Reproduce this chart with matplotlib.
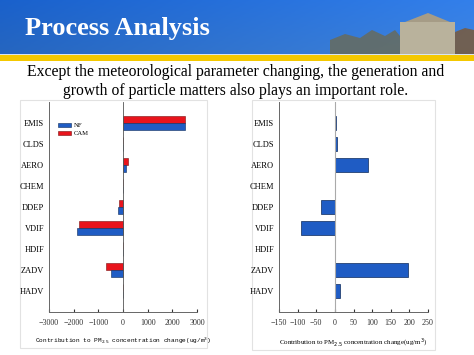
import numpy as np
import matplotlib.pyplot as plt
from matplotlib.patches import Rectangle, Polygon

# process categories, top to bottom
processes = ['EMIS', 'CLDS', 'AERO', 'CHEM', 'DDEP', 'VDIF', 'HDIF', 'ZADV', 'HADV']

# left panel: NF vs CAM (ug/m3)
nf_vals = [2500, 5, 140, 0, -220, -1880, 0, -490, 20]
cam_vals = [2500, 5, 210, 0, -180, -1800, 0, -680, 0]

# right panel: difference
diff_vals = [3, 5, 90, 0, -38, -90, 0, 195, 15]

left_xticks = [-3000, -2000, -1000, 0, 1000, 2000, 3000]
right_xticks = [-150, -100, -50, 0, 50, 100, 150, 200, 250]

W, H = 474, 355
fig = plt.figure(figsize=(W / 100, H / 100), dpi=100)
fig.patch.set_facecolor('white')

# slide background in pixel coords
bg = fig.add_axes([0, 0, 1, 1])
bg.set_xlim(0, W)
bg.set_ylim(H, 0)
bg.axis('off')

# blue banner with gradient
grad = np.linspace(0, 1, 200)[None, :]
yy = np.linspace(0, 1, 60)[:, None]
r = 0.10 + 0.10 * grad + 0.05 * yy
g = 0.38 + 0.12 * grad + 0.02 * yy
b = 0.80 + 0.12 * grad - 0.05 * yy
img = np.dstack([r, g, np.clip(b, 0, 1)])
bg.imshow(img, extent=(0, W, 55, 0), aspect='auto', zorder=0)
# building / trees silhouette on the right
bg.add_patch(Polygon([(330, 55), (330, 40), (345, 34), (360, 38), (372, 30), (385, 36),
                      (395, 30), (400, 36), (400, 55)], closed=True,
                     color='#6a6a55', alpha=0.8, zorder=1, lw=0))
bg.add_patch(Rectangle((400, 22), 55, 33, color='#b9b29c', zorder=1, lw=0))
bg.add_patch(Polygon([(405, 22), (428, 13), (450, 22)], closed=True,
                     color='#a69c86', zorder=1, lw=0))
bg.add_patch(Polygon([(455, 55), (455, 32), (465, 28), (474, 30), (474, 55)], closed=True,
                     color='#7a5a3a', alpha=0.85, zorder=1, lw=0))
bg.add_patch(Rectangle((0, 54), W, 1.2, color='#d8e4f0', zorder=2, lw=0))
bg.add_patch(Rectangle((0, 55), W, 5.5, color='#f4c800', zorder=2, lw=0))

bg.text(25, 28, 'Process Analysis', color='white', fontsize=19, fontweight='bold',
        family='Liberation Serif', va='center', ha='left', zorder=3)
bg.text(236, 72, 'Except the meteorological parameter changing, the generation and',
        fontsize=11.3, family='Liberation Serif', ha='center', va='center')
bg.text(236, 91, 'growth of particle matters also plays an important role.',
        fontsize=11.3, family='Liberation Serif', ha='center', va='center')

# white panels with faint borders
bg.add_patch(Rectangle((20, 100), 187, 248, fill=False, ec='#e2e2e2', lw=0.8))
bg.add_patch(Rectangle((252, 100), 183, 250, fill=False, ec='#e2e2e2', lw=0.8))

blue = '#1f5cc4'
red = '#e8141c'
y = np.arange(len(processes))
serif = 'Liberation Serif'

# left chart
ax1 = fig.add_axes([49 / W, 1 - 312 / H, 148 / W, 210 / H])
ax1.barh(y - 0.17, cam_vals, height=0.34, color=red, edgecolor='#7a1010', lw=0.4, label='CAM')
ax1.barh(y + 0.17, nf_vals, height=0.34, color=blue, edgecolor='#0d2a5a', lw=0.4, label='NF')
ax1.axvline(0, color='#555555', lw=0.6)
ax1.set_xlim(-3000, 3000)
ax1.set_xticks(left_xticks)
ax1.set_xlabel('Contribution to PM$_{2.5}$ concentration change(ug/m$^3$)',
               fontsize=4.4, family='Liberation Mono', labelpad=6)
h, l = ax1.get_legend_handles_labels()
ax1.legend(h[::-1], l[::-1], loc='upper left', bbox_to_anchor=(0.02, 0.93), frameon=False,
           prop={'family': serif, 'size': 4.8}, handlelength=2.0, handleheight=0.6,
           labelspacing=0.4, handletextpad=0.4)

# right chart
ax2 = fig.add_axes([279 / W, 1 - 312 / H, 149 / W, 210 / H])
ax2.barh(y, diff_vals, height=0.62, color=blue, edgecolor='#0d2a5a', lw=0.5)
ax2.axvline(0, color='#aaaaaa', lw=0.8)
ax2.set_xlim(-150, 250)
ax2.set_xticks(right_xticks)
ax2.set_xlabel('Contribution to PM$_{2.5}$ concentration change(ug/m$^3$)',
               fontsize=5, family=serif, labelpad=7)

for ax in (ax1, ax2):
    ax.set_ylim(len(processes) - 0.0, -1.0)
    ax.set_yticks(y)
    ax.set_yticklabels(processes)
    ax.spines['top'].set_visible(False)
    ax.spines['right'].set_visible(False)
    for s in ('left', 'bottom'):
        ax.spines[s].set_color('#666666')
        ax.spines[s].set_linewidth(0.7)
    ax.tick_params(axis='y', length=0, labelsize=6, pad=3.5)
    ax.tick_params(axis='x', length=2, direction='in', labelsize=5.8, pad=5, colors='#333333')
    for t in ax.get_xticklabels() + ax.get_yticklabels():
        t.set_family(serif)
    ax.set_facecolor('none')

fig.savefig('out.png', dpi=100)
